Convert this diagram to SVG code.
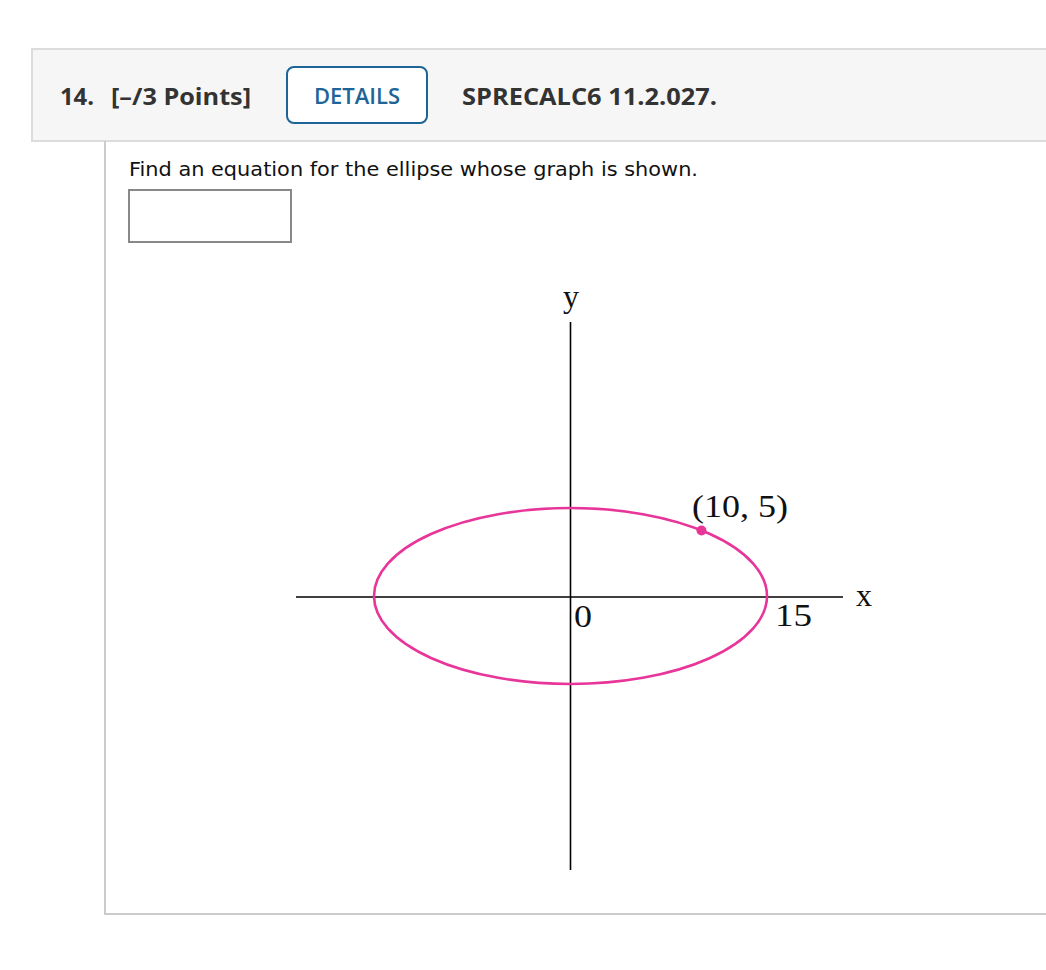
<svg xmlns="http://www.w3.org/2000/svg" width="1046" height="970" viewBox="0 0 1046 970">
<style>
.hdr{font-family:"Open Sans","Liberation Sans",sans-serif;font-weight:700;font-size:23px;fill:#333}
.btn{font-family:"Open Sans","Liberation Sans",sans-serif;font-weight:600;font-size:21px;fill:#1d6497}
.body{font-family:"DejaVu Sans","Liberation Sans",sans-serif;font-size:20px;fill:#111}
.math{font-family:"Liberation Serif","Times New Roman",serif;font-size:32px;fill:#111}
.axis{stroke:#000;stroke-width:1.6;fill:none}
.curve{stroke:#e8359a;stroke-width:2.6;fill:none}
</style>
<rect width="1046" height="970" fill="#fff"/>
<g id="header">
<rect x="32" y="49" width="1030" height="92" fill="#f6f6f6" stroke="#dcdcdc" stroke-width="2"/>
<text class="hdr" x="60" y="105" textLength="34" lengthAdjust="spacingAndGlyphs">14.</text>
<text class="hdr" x="111" y="105" textLength="140" lengthAdjust="spacingAndGlyphs">[–/3 Points]</text>
<text class="hdr" x="462" y="105" textLength="255" lengthAdjust="spacingAndGlyphs">SPRECALC6 11.2.027.</text>
</g>
<g id="details-button">
<rect x="287" y="67" width="140" height="56" rx="7" fill="#fff" stroke="#1d6497" stroke-width="2"/>
<text class="btn" x="357" y="104" text-anchor="middle" textLength="86" lengthAdjust="spacingAndGlyphs">DETAILS</text>
</g>
<g id="panel">
<path d="M105 141 V914 H1050" fill="none" stroke="#cccccc" stroke-width="2"/>
<text class="body" x="129" y="176" textLength="569" lengthAdjust="spacingAndGlyphs">Find an equation for the ellipse whose graph is shown.</text>
</g>
<g id="answer-box">
<rect x="129" y="190" width="162" height="52" fill="#fff" stroke="#888" stroke-width="2"/>
</g>
<g id="axes">
<line class="axis" x1="570.5" y1="322" x2="570.5" y2="870"/>
<line class="axis" x1="296" y1="597" x2="843" y2="597"/>
<text class="math" x="563" y="307" font-size="27">y</text>
<text class="math" x="856" y="606" font-size="27">x</text>
<text class="math" x="574" y="627" textLength="18" lengthAdjust="spacingAndGlyphs">0</text>
<text class="math" x="775" y="626" textLength="37" lengthAdjust="spacingAndGlyphs">15</text>
</g>
<g id="ellipse">
<ellipse class="curve" cx="570.5" cy="596" rx="196.5" ry="88"/>
<circle cx="701.5" cy="530.5" r="5" fill="#e8359a"/>
<text class="math" x="692" y="517" textLength="96" lengthAdjust="spacingAndGlyphs">(10, 5)</text>
</g>
</svg>
